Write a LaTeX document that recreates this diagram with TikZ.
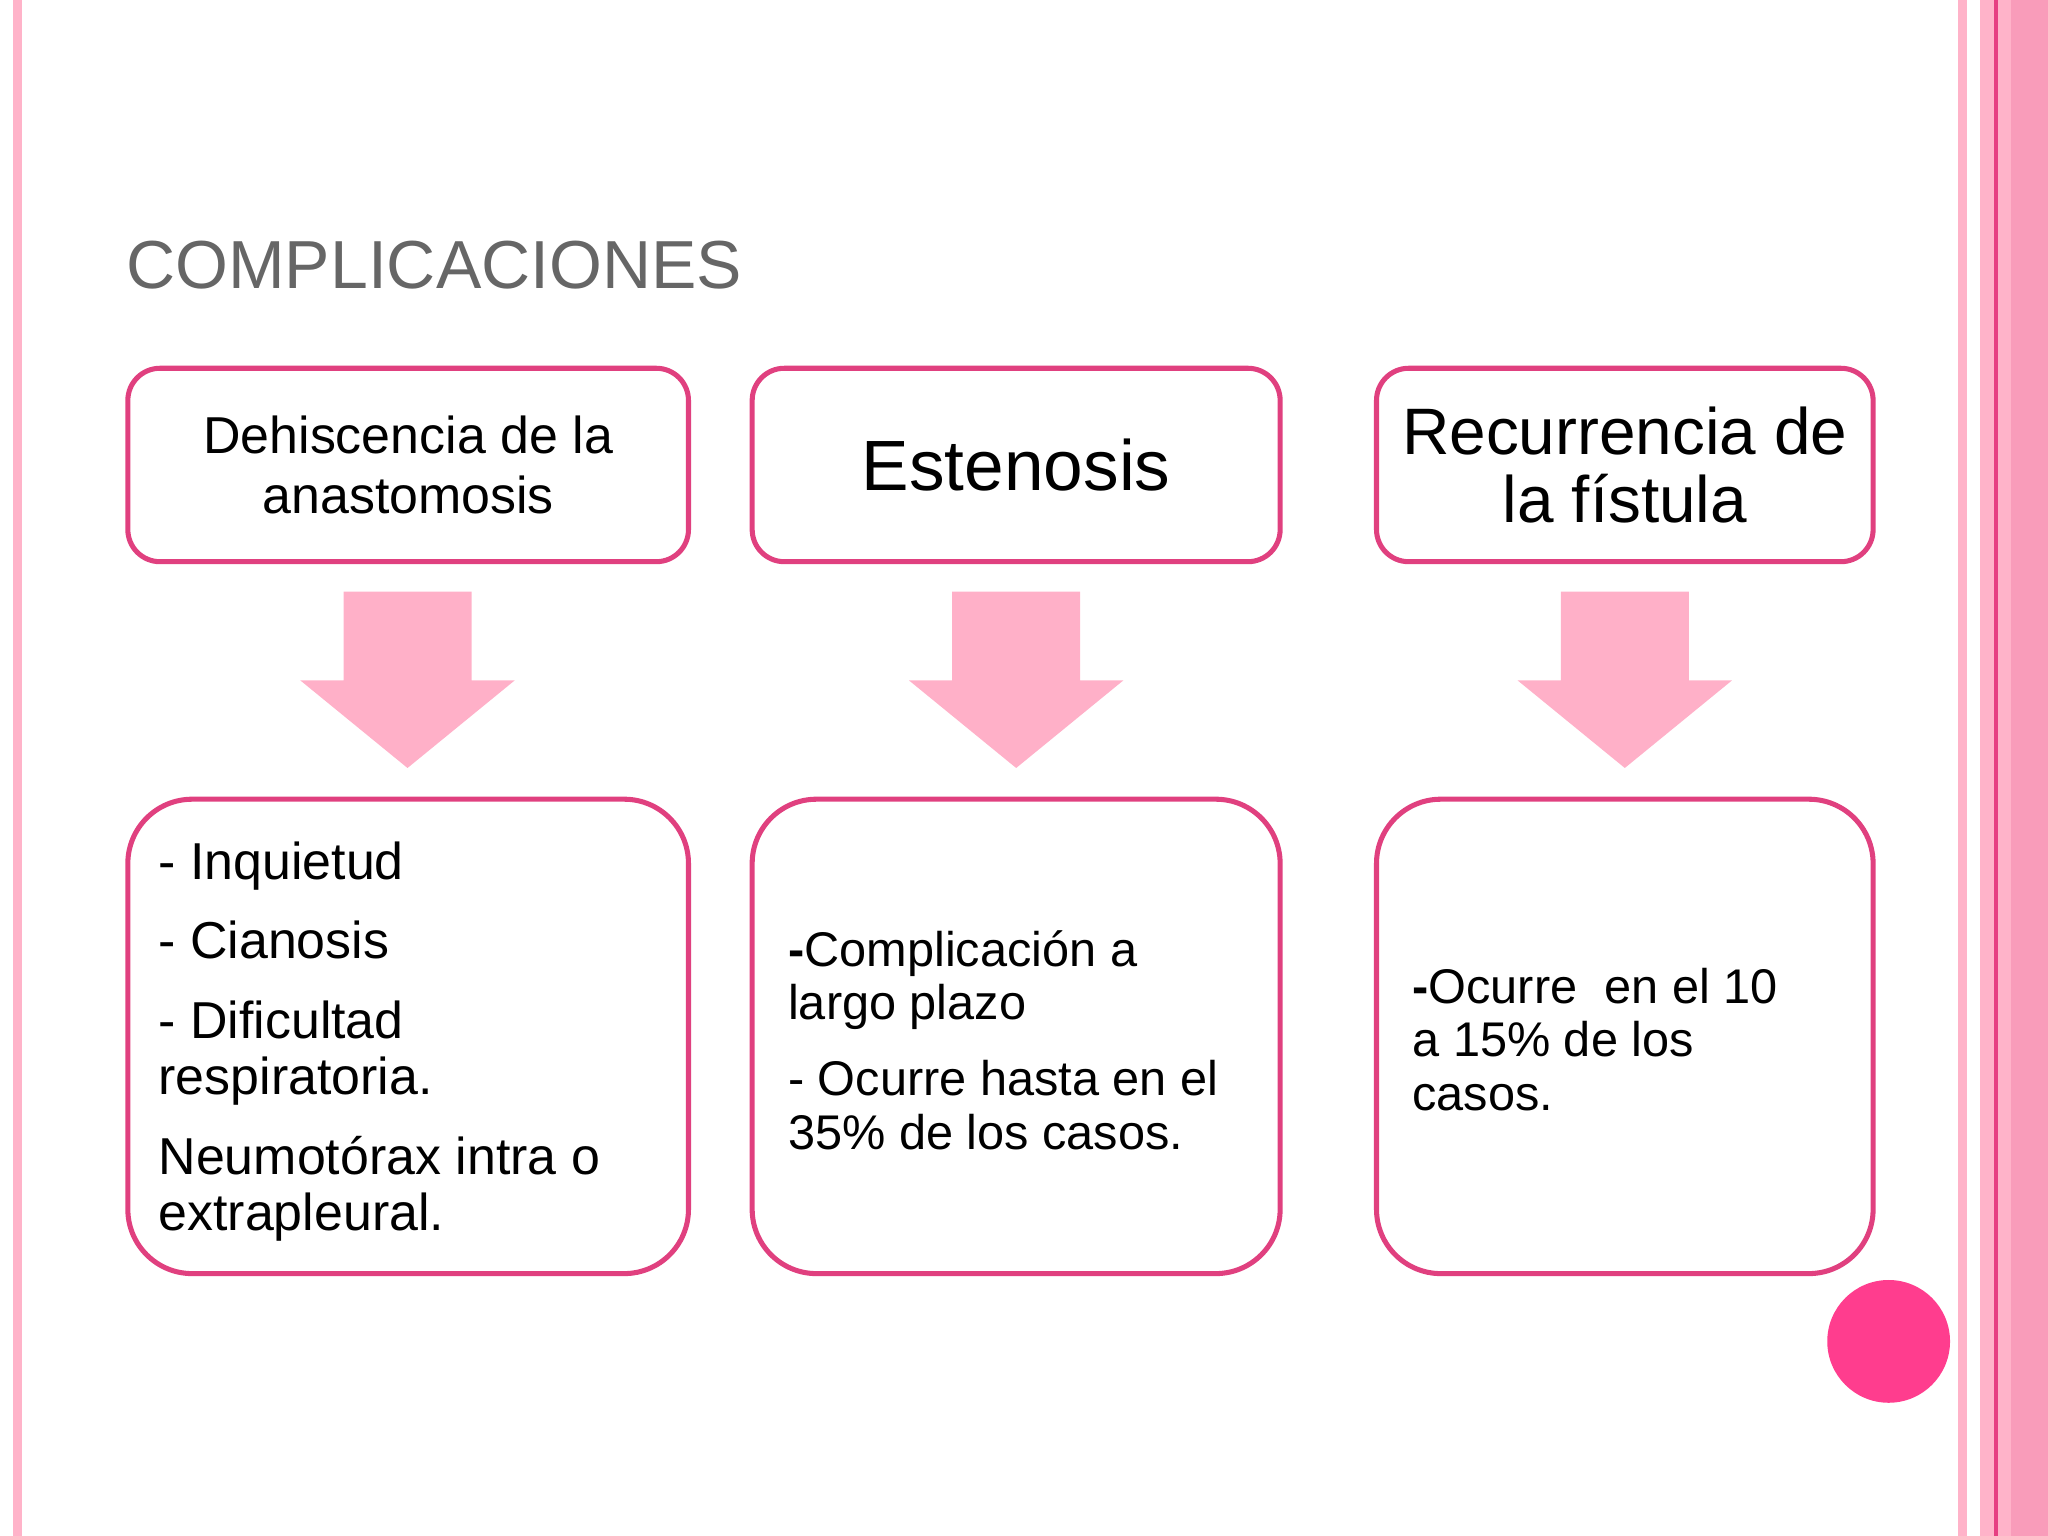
\documentclass[tikz,border=0pt]{standalone}
\usepackage{fontspec}
\setmainfont{Liberation Sans}
\usetikzlibrary{positioning,calc}
\definecolor{edge}{HTML}{E0407F}
\definecolor{soft}{HTML}{FFB0C8}
\definecolor{stripe}{HTML}{FFB3C9}
\definecolor{dot}{HTML}{FF3D8E}
\begin{document}
\begin{tikzpicture}[
  x=0.01cm, y=-0.01cm,
  topbox/.style={draw=edge, line width=1.1pt, rounded corners=7pt, align=center, inner sep=0pt, minimum height=1.48cm},
  lowbox/.style={draw=edge, line width=1.1pt, rounded corners=14pt, inner sep=0pt, minimum height=3.63cm},
  downarrow/.style={fill=soft, draw=none},
]
\useasboundingbox (0,0) rectangle (1568,1176);

% --- Frame stripes ---
\fill[stripe] (10,0) rectangle (17,1176);
\fill[stripe] (1499,0) rectangle (1506,1176);
\fill[stripe] (1516,0) rectangle (1568,1176);
\fill[stripe!80!edge] (1540,0) rectangle (1568,1176);
\fill[edge!80!dot] (1527,0) rectangle (1530,1176);

% --- Title ---
\node[anchor=west, text=black!60, inner sep=0pt, font=\fontsize{14.8}{18}\selectfont] (title) at (96,203) {COMPLICACIONES};

% --- Top boxes ---
\node[topbox, minimum width=4.29cm, font=\fontsize{11.3}{13}\selectfont] (dehis) at (312.5,356)
  {Dehiscencia de la\\anastomosis};
\node[topbox, minimum width=4.04cm, font=\fontsize{15.5}{18}\selectfont] (esten) at (778,356) {Estenosis};
\node[topbox, minimum width=3.80cm, font=\fontsize{14.3}{15}\selectfont] (recur) at (1244,356) {Recurrencia de\\la fístula};

% --- Arrows ---
\foreach \cx in {312,778,1244}{
  \fill[downarrow] (\cx-49,453) -- (\cx+49,453) -- (\cx+49,521) -- (\cx+82,521)
    -- (\cx,588) -- (\cx-82,521) -- (\cx-49,521) -- cycle;
}

% --- Bottom boxes ---
\node[lowbox, minimum width=4.29cm] (signsbox) at (312.5,793.5) {};
\node[lowbox, minimum width=4.04cm] (latebox) at (778,793.5) {};
\node[lowbox, minimum width=3.80cm] (ratebox) at (1244,793.5) {};

\node[anchor=north west, align=left, font=\fontsize{11.3}{12.3}\selectfont] (signs) at (109,632)
  {- Inquietud\\[5pt] - Cianosis\\[5pt] - Dificultad\\respiratoria.\\[5pt] Neumotórax intra o\\extrapleural.};
\node[anchor=north west, align=left, font=\fontsize{10.6}{11.6}\selectfont] (late) at (591,700)
  {\textbf{-}Complicación a\\largo plazo\\[5pt] - Ocurre hasta en el\\35\% de los casos.};
\node[anchor=north west, align=left, font=\fontsize{10.6}{11.6}\selectfont] (rate) at (1069,729)
  {\textbf{-}Ocurre\ \ en el 10\\a 15\% de los\\casos.};

% --- Dot ---
\fill[dot] (1446,1027) circle (47);
\end{tikzpicture}
\end{document}
